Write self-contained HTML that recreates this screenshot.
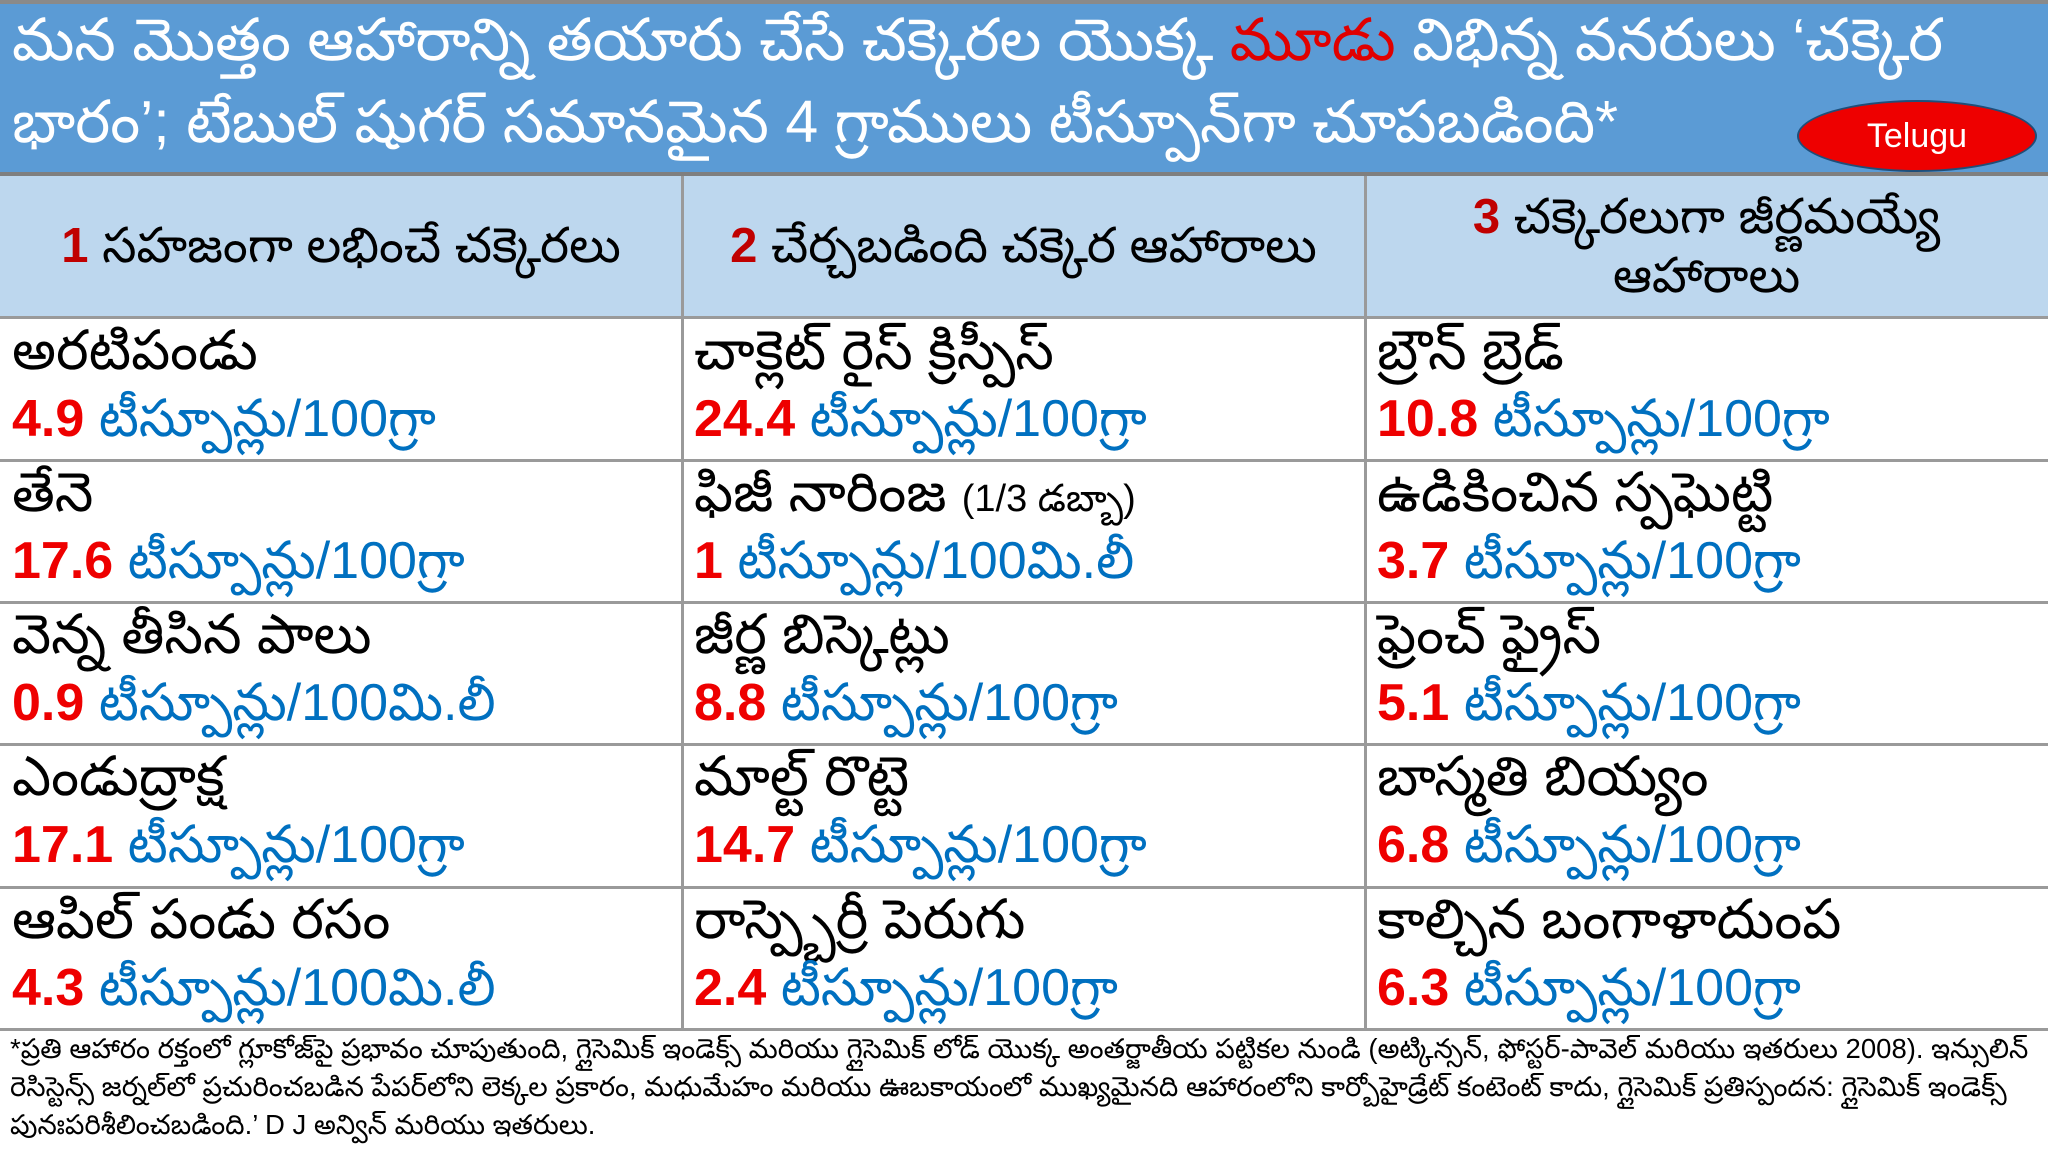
<!DOCTYPE html>
<html><head><meta charset="utf-8"><style>
*{margin:0;padding:0;box-sizing:border-box}
body{width:2048px;height:1152px;background:#fff;font-family:"Liberation Sans","Noto Sans CJK SC",sans-serif;position:relative;overflow:hidden}
.band{position:absolute;left:0;top:0;width:2048px;height:176px;background:#5B9BD5;border-top:4px solid #8a8a8a;border-bottom:4px solid #7f7f7f}
.t{position:absolute;left:12px;color:#fff;font-size:59px;white-space:nowrap}
.red{color:#e00000}
.ell{position:absolute;left:1797px;top:100px;width:240px;height:72px;border-radius:50%;background:#ee0000;border:2px solid #1f4e79;color:#fff;font-size:34px;text-align:center;line-height:68px}
.hdr{position:absolute;top:176px;height:141px;background:#BDD7EE;font-size:49px;text-align:center;display:flex;align-items:center;justify-content:center;line-height:1.2}
.num{color:#c00000;font-weight:bold}
.vl{position:absolute;top:176px;height:853px;width:3px;background:#9a9a9a}
.hl{position:absolute;left:0;width:2048px;height:3px;background:#9a9a9a}
.cell{position:absolute;font-size:55px;white-space:nowrap;line-height:1.1}
.cell .n{color:#0070c0;display:block;margin-top:10px;font-size:52px}
.cell .n b{color:#ee0000}
.foot{position:absolute;left:10px;top:1030px;width:2036px;font-size:27.5px;line-height:38px}
</style></head><body>
<div class="band"></div>
<div class="t" style="top:6px">మన మొత్తం ఆహారాన్ని తయారు చేసే చక్కెరల యొక్క <span class="red">మూడు</span> విభిన్న వనరులు ‘చక్కెర</div>
<div class="t" style="top:88px">భారం’; టేబుల్ షుగర్ సమానమైన 4 గ్రాములు టీస్పూన్‌గా చూపబడింది*</div>
<div class="ell">Telugu</div>
<div class="hdr" style="left:0;width:682px"><span><span class="num">1</span> సహజంగా లభించే చక్కెరలు</span></div>
<div class="hdr" style="left:682px;width:683px"><span><span class="num">2</span> చేర్చబడింది చక్కెర ఆహారాలు</span></div>
<div class="hdr" style="left:1365px;width:683px"><span><span class="num">3</span> చక్కెరలుగా జీర్ణమయ్యే<br>ఆహారాలు</span></div>
<div class="hl" style="top:316px"></div><div class="hl" style="top:459px"></div><div class="hl" style="top:601px"></div><div class="hl" style="top:743px"></div><div class="hl" style="top:886px"></div><div class="hl" style="top:1028px"></div>
<div class="vl" style="left:681px"></div><div class="vl" style="left:1364px"></div>

<div class="cell" style="left:12px;top:320px">అరటిపండు<span class="n"><b>4.9</b> టీస్పూన్లు/100గ్రా</span></div>
<div class="cell" style="left:694px;top:320px">చాక్లెట్ రైస్ క్రిస్పీస్<span class="n"><b>24.4</b> టీస్పూన్లు/100గ్రా</span></div>
<div class="cell" style="left:1377px;top:320px">బ్రౌన్ బ్రెడ్<span class="n"><b>10.8</b> టీస్పూన్లు/100గ్రా</span></div>

<div class="cell" style="left:12px;top:462px">తేనె<span class="n"><b>17.6</b> టీస్పూన్లు/100గ్రా</span></div>
<div class="cell" style="left:694px;top:462px">ఫిజీ నారింజ <span style="font-size:38px">(1/3 డబ్బా)</span><span class="n"><b>1</b> టీస్పూన్లు/100మి.లీ</span></div>
<div class="cell" style="left:1377px;top:462px">ఉడికించిన స్పఘెట్టి<span class="n"><b>3.7</b> టీస్పూన్లు/100గ్రా</span></div>

<div class="cell" style="left:12px;top:604px">వెన్న తీసిన పాలు<span class="n"><b>0.9</b> టీస్పూన్లు/100మి.లీ</span></div>
<div class="cell" style="left:694px;top:604px">జీర్ణ బిస్కెట్లు<span class="n"><b>8.8</b> టీస్పూన్లు/100గ్రా</span></div>
<div class="cell" style="left:1377px;top:604px">ఫ్రెంచ్ ఫ్రైస్<span class="n"><b>5.1</b> టీస్పూన్లు/100గ్రా</span></div>

<div class="cell" style="left:12px;top:746px">ఎండుద్రాక్ష<span class="n"><b>17.1</b> టీస్పూన్లు/100గ్రా</span></div>
<div class="cell" style="left:694px;top:746px">మాల్ట్ రొట్టె<span class="n"><b>14.7</b> టీస్పూన్లు/100గ్రా</span></div>
<div class="cell" style="left:1377px;top:746px">బాస్మతి బియ్యం<span class="n"><b>6.8</b> టీస్పూన్లు/100గ్రా</span></div>

<div class="cell" style="left:12px;top:889px">ఆపిల్ పండు రసం<span class="n"><b>4.3</b> టీస్పూన్లు/100మి.లీ</span></div>
<div class="cell" style="left:694px;top:889px">రాస్ప్బెర్రీ పెరుగు<span class="n"><b>2.4</b> టీస్పూన్లు/100గ్రా</span></div>
<div class="cell" style="left:1377px;top:889px">కాల్చిన బంగాళాదుంప<span class="n"><b>6.3</b> టీస్పూన్లు/100గ్రా</span></div>

<div class="foot">*ప్రతి ఆహారం రక్తంలో గ్లూకోజ్‌పై ప్రభావం చూపుతుంది, గ్లైసెమిక్ ఇండెక్స్ మరియు గ్లైసెమిక్ లోడ్ యొక్క అంతర్జాతీయ పట్టికల నుండి (అట్కిన్సన్, ఫోస్టర్-పావెల్ మరియు ఇతరులు 2008). ఇన్సులిన్ రెసిస్టెన్స్ జర్నల్‌లో ప్రచురించబడిన పేపర్‌లోని లెక్కల ప్రకారం, మధుమేహం మరియు ఊబకాయంలో ముఖ్యమైనది ఆహారంలోని కార్బోహైడ్రేట్ కంటెంట్ కాదు, గ్లైసెమిక్ ప్రతిస్పందన: గ్లైసెమిక్ ఇండెక్స్ పునఃపరిశీలించబడింది.’ D J అన్విన్ మరియు ఇతరులు.</div>
</body></html>
